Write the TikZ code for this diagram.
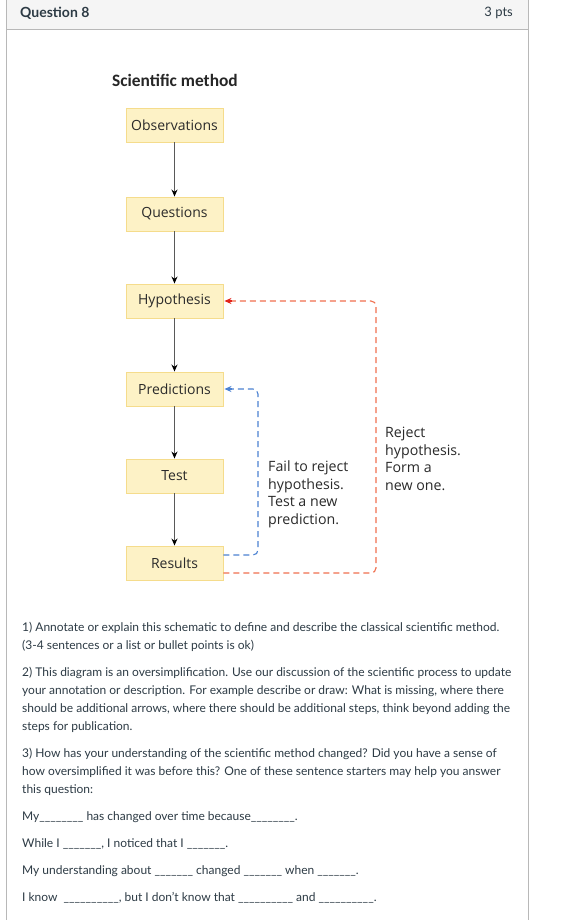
\documentclass[tikz,border=0pt]{standalone}
\usepackage{fontspec}
\setmainfont{Lato}
\newfontfamily\diag{Open Sans}
\newfontfamily\ttl{Carlito}
\usetikzlibrary{arrows.meta,calc}
\definecolor{boxfill}{HTML}{FDF2C6}
\definecolor{boxline}{HTML}{F5DC8C}
\definecolor{redd}{HTML}{F0704F}
\definecolor{redh}{HTML}{E2231A}
\definecolor{blued}{HTML}{4C82D2}
\definecolor{frame}{HTML}{B8B8B8}
\definecolor{head}{HTML}{F5F5F5}
\definecolor{qtext}{HTML}{2D3B45}
\definecolor{dtext}{HTML}{2A2A2A}
\begin{document}
\begin{tikzpicture}[x=1pt,y=-1pt,
  stepbox/.style={draw=boxline,fill=boxfill,line width=0.9pt,minimum width=97pt,minimum height=34pt,inner sep=0pt,font=\diag\fontsize{14}{16}\selectfont,text=dtext},
  flow/.style={draw=black!65,line width=1.3pt,-{Stealth[length=7pt,width=6pt,color=black]}},
  reddash/.style={draw=redd,line width=1.1pt,dash pattern=on 6pt off 4pt,rounded corners=5pt},
  bluedash/.style={draw=blued,line width=1.1pt,dash pattern=on 6pt off 4pt,rounded corners=5pt},
  side/.style={anchor=north west,align=left,inner sep=0pt,font=\diag\fontsize{14.2}{17.5}\selectfont,text=dtext},
  qline/.style={anchor=west,inner sep=0pt,font=\fontsize{12}{15}\selectfont,text=qtext}
]
\useasboundingbox (0,0) rectangle (572,920);
\fill[white] (0,0) rectangle (572,920);
% frame
\draw[frame,fill=head,line width=1pt] (6,-2) rectangle (528,30);
\draw[frame,line width=1pt] (6,30) -- (6,922);
\draw[frame,line width=1pt] (528,30) -- (528,922);
\node[anchor=west,inner sep=0pt,font=\bfseries\fontsize{14}{16}\selectfont,text=qtext] (qhead) at (20,13) {Question 8};
\node[anchor=east,inner sep=0pt,font=\fontsize{13}{15}\selectfont,text=qtext] (pts) at (513,13) {3 pts};
% title
\node[anchor=west,inner sep=0pt,font=\ttl\bfseries\fontsize{17.4}{20}\selectfont,text=black!85] (title) at (112,80) {Scientific method};
% boxes
\node[stepbox] (obs) at (174.5,125) {Observations};
\node[stepbox] (que) at (174.5,214) {Questions};
\node[stepbox] (hyp) at (174.5,301) {Hypothesis};
\node[stepbox] (pre) at (174.5,389) {Predictions};
\node[stepbox] (tst) at (174.5,476) {Test};
\node[stepbox] (res) at (174.5,563) {Results};
\draw[flow] (obs) -- (que);
\draw[flow] (que) -- (hyp);
\draw[flow] (hyp) -- (pre);
\draw[flow] (pre) -- (tst);
\draw[flow] (tst) -- (res);
% feedback loops
\coordinate (rs) at ($(res.east)+(0,10)$);
\coordinate (rc1) at (376,573);
\coordinate (rc2) at (376,301);
\draw[reddash] (rs) -- (rc1) -- (rc2) -- ($(hyp.east)+(8,0)$);
\draw[redh,line width=1.1pt,-{Stealth[length=7pt,width=6pt]}] ($(hyp.east)+(9,0)$) -- ($(hyp.east)+(1,0)$);
\coordinate (bs) at ($(res.east)+(0,-8)$);
\coordinate (bc1) at (258,555);
\coordinate (bc2) at (258,389);
\draw[bluedash] (bs) -- (bc1) -- (bc2) -- ($(pre.east)+(8,0)$);
\draw[blued,line width=1.1pt,-{Stealth[length=7pt,width=6pt]}] ($(pre.east)+(9,0)$) -- ($(pre.east)+(1,0)$);
\node[side] (fail) at (268,461) {Fail to reject\\hypothesis.\\Test a new\\prediction.};
\node[side] (rej) at (385,427) {Reject\\hypothesis.\\Form a\\new one.};
% questions
\node[qline] (l1) at (22,628) {1) Annotate or explain this schematic to define and describe the classical scientific method.};
\node[qline] (l2) at (22,646) {(3-4 sentences or a list or bullet points is ok)};
\node[qline] (l3) at (22,673) {2) This diagram is an oversimplification. Use our discussion of the scientific process to update};
\node[qline] (l4) at (22,691) {your annotation or description. For example describe or draw: What is missing, where there};
\node[qline] (l5) at (22,709) {should be additional arrows, where there should be additional steps, think beyond adding the};
\node[qline] (l6) at (22,727) {steps for publication.};
\node[qline] (l7) at (22,754) {3) How has your understanding of the scientific method changed? Did you have a sense of};
\node[qline] (l8) at (22,772) {how oversimplified it was before this? One of these sentence starters may help you answer};
\node[qline] (l9) at (22,790) {this question:};
\node[qline] (l10) at (22,817) {My\_\_\_\_\_\_\_\_ has changed over time because\_\_\_\_\_\_\_\_.};
\node[qline] (l11) at (22,844) {While I \_\_\_\_\_\_\_, I noticed that I \_\_\_\_\_\_\_.};
\node[qline] (l12) at (22,871) {My understanding about \_\_\_\_\_\_\_ changed \_\_\_\_\_\_\_ when \_\_\_\_\_\_\_.};
\node[qline] (l13) at (22,898) {I know \ \_\_\_\_\_\_\_\_\_\_, but I don't know that \_\_\_\_\_\_\_\_\_\_ and \_\_\_\_\_\_\_\_\_\_.};
\end{tikzpicture}
\end{document}
